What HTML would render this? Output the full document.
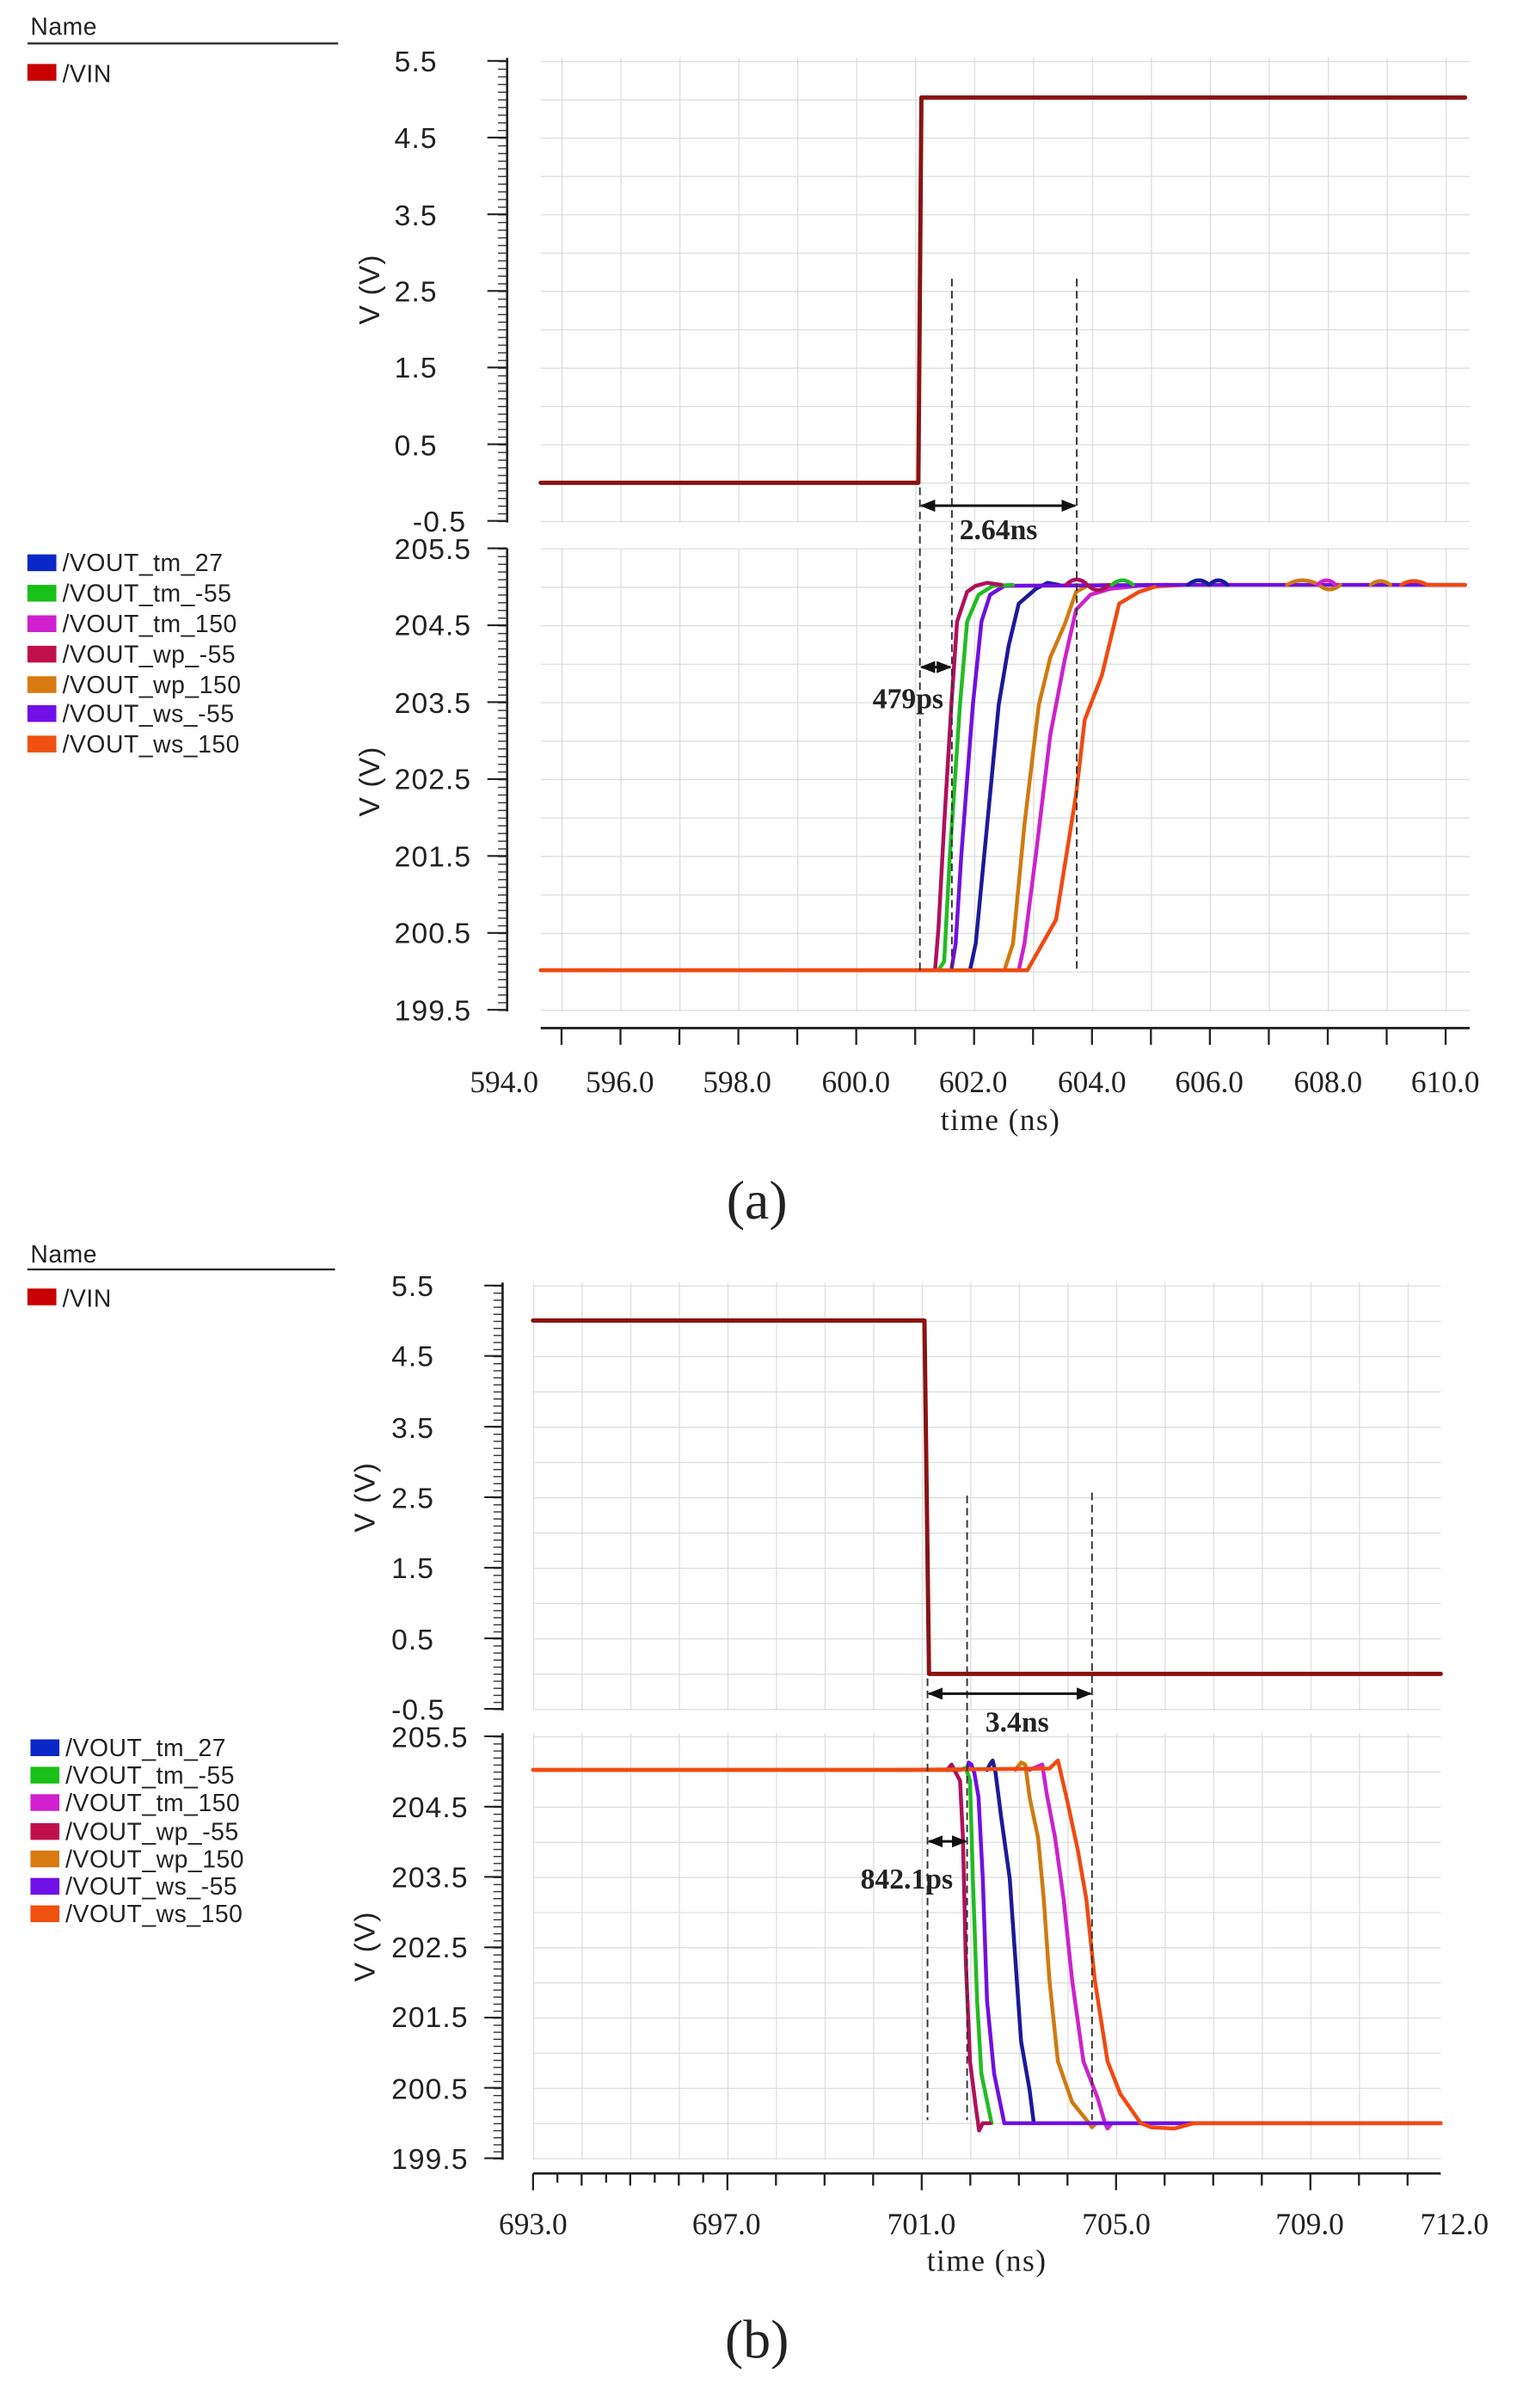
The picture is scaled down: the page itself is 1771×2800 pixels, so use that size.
<!DOCTYPE html>
<html><head><meta charset="utf-8"><style>
html,body{margin:0;padding:0;background:#fff;}
svg{display:block;}
.tk{font-family:"Liberation Sans",sans-serif;font-size:19px;fill:#222;letter-spacing:0.6px;}
.lg{font-family:"Liberation Sans",sans-serif;font-size:16px;fill:#222;letter-spacing:0.3px;}
.ser{font-family:"Liberation Serif",serif;fill:#222;}
.c{fill:none;stroke-linejoin:round;stroke-linecap:round;}
</style></head><body>
<svg width="1771" height="2800" viewBox="0 0 1000 1581" preserveAspectRatio="none" xmlns="http://www.w3.org/2000/svg">
<defs>
<pattern id="gva" x="330" y="0" width="38.7" height="1581" patternUnits="userSpaceOnUse"><line x1="0.3" y1="0" x2="0.3" y2="1581" stroke="#dcdcdc" stroke-width="0.8"/></pattern>
<pattern id="gh1" x="0" y="40" width="1000" height="25.17" patternUnits="userSpaceOnUse"><line x1="0" y1="0.3" x2="1000" y2="0.3" stroke="#dcdcdc" stroke-width="0.8"/></pattern>
<pattern id="gh2" x="0" y="360" width="1000" height="25.25" patternUnits="userSpaceOnUse"><line x1="0" y1="0.3" x2="1000" y2="0.3" stroke="#dcdcdc" stroke-width="0.8"/></pattern>
<pattern id="gvb" x="350" y="0" width="31.9" height="1581" patternUnits="userSpaceOnUse"><line x1="0.3" y1="0" x2="0.3" y2="1581" stroke="#dcdcdc" stroke-width="0.8"/></pattern>
<pattern id="gh3" x="0" y="844" width="1000" height="23.17" patternUnits="userSpaceOnUse"><line x1="0" y1="0.3" x2="1000" y2="0.3" stroke="#dcdcdc" stroke-width="0.8"/></pattern>
<pattern id="gh4" x="0" y="1140" width="1000" height="23.08" patternUnits="userSpaceOnUse"><line x1="0" y1="0.3" x2="1000" y2="0.3" stroke="#dcdcdc" stroke-width="0.8"/></pattern>
<pattern id="ta1" x="0" y="40" width="1000" height="5.033" patternUnits="userSpaceOnUse"><line x1="327" y1="0.4" x2="333" y2="0.4" stroke="#333" stroke-width="0.8"/></pattern>
<pattern id="ta2" x="0" y="360" width="1000" height="5.05" patternUnits="userSpaceOnUse"><line x1="327" y1="0.4" x2="333" y2="0.4" stroke="#333" stroke-width="0.8"/></pattern>
<pattern id="tb1" x="0" y="844" width="1000" height="4.633" patternUnits="userSpaceOnUse"><line x1="324" y1="0.4" x2="330" y2="0.4" stroke="#333" stroke-width="0.8"/></pattern>
<pattern id="tb2" x="0" y="1140" width="1000" height="4.617" patternUnits="userSpaceOnUse"><line x1="324" y1="0.4" x2="330" y2="0.4" stroke="#333" stroke-width="0.8"/></pattern>
<marker id="ah" viewBox="0 0 10 10" refX="9" refY="5" markerWidth="10" markerHeight="10" markerUnits="userSpaceOnUse" orient="auto-start-reverse"><path d="M0 1 L10 5 L0 9 Z" fill="#111"/></marker>
</defs>

<!-- ================= (a) ================= -->
<text class="lg" x="20" y="23">Name</text>
<line x1="18" y1="28.5" x2="222" y2="28.5" stroke="#222" stroke-width="1.3"/>
<rect x="18" y="42" width="19" height="11" fill="#c80000"/><text class="lg" x="41" y="54">/VIN</text>

<g class="lg">
<rect x="18" y="364" width="19" height="11" fill="#0a28c8"/><text x="41" y="375">/VOUT_tm_27</text>
<rect x="18" y="384" width="19" height="11" fill="#18c018"/><text x="41" y="395">/VOUT_tm_-55</text>
<rect x="18" y="404" width="19" height="11" fill="#d020d0"/><text x="41" y="415">/VOUT_tm_150</text>
<rect x="18" y="424" width="19" height="11" fill="#c0104c"/><text x="41" y="435">/VOUT_wp_-55</text>
<rect x="18" y="444" width="19" height="11" fill="#d87a10"/><text x="41" y="455">/VOUT_wp_150</text>
<rect x="18" y="463" width="19" height="11" fill="#7010e8"/><text x="41" y="474">/VOUT_ws_-55</text>
<rect x="18" y="483" width="19" height="11" fill="#f05010"/><text x="41" y="494">/VOUT_ws_150</text>
</g>

<rect x="355" y="38" width="610" height="305" fill="url(#gva)"/>
<rect x="355" y="38" width="610" height="305" fill="url(#gh1)"/>
<rect x="355" y="360" width="610" height="304" fill="url(#gva)"/>
<rect x="355" y="360" width="610" height="304" fill="url(#gh2)"/>
<rect x="320" y="38" width="14" height="306" fill="url(#ta1)"/>
<rect x="320" y="358" width="14" height="306" fill="url(#ta2)"/>
<line x1="333" y1="38" x2="333" y2="343" stroke="#222" stroke-width="1.5"/>
<line x1="333" y1="360" x2="333" y2="664" stroke="#222" stroke-width="1.5"/>
<g stroke="#222" stroke-width="1.2">
<line x1="320" y1="40" x2="333" y2="40"/><line x1="320" y1="90.3" x2="333" y2="90.3"/><line x1="320" y1="140.7" x2="333" y2="140.7"/><line x1="320" y1="191" x2="333" y2="191"/><line x1="320" y1="241.3" x2="333" y2="241.3"/><line x1="320" y1="291.7" x2="333" y2="291.7"/><line x1="320" y1="342" x2="333" y2="342"/>
<line x1="320" y1="360" x2="333" y2="360"/><line x1="320" y1="410.5" x2="333" y2="410.5"/><line x1="320" y1="461" x2="333" y2="461"/><line x1="320" y1="511.5" x2="333" y2="511.5"/><line x1="320" y1="562" x2="333" y2="562"/><line x1="320" y1="612.5" x2="333" y2="612.5"/><line x1="320" y1="663" x2="333" y2="663"/>
</g>
<g class="tk">
<text x="259" y="47">5.5</text><text x="259" y="97">4.5</text><text x="259" y="148">3.5</text><text x="259" y="198">2.5</text><text x="259" y="248">1.5</text><text x="259" y="299">0.5</text><text x="271" y="349">-0.5</text>
<text x="259" y="367">205.5</text><text x="259" y="417">204.5</text><text x="259" y="468">203.5</text><text x="259" y="518">202.5</text><text x="259" y="569">201.5</text><text x="259" y="619">200.5</text><text x="259" y="670">199.5</text>
</g>
<text class="tk" transform="translate(249,190) rotate(-90)" text-anchor="middle" font-size="18">V (V)</text>
<text class="tk" transform="translate(249,513) rotate(-90)" text-anchor="middle" font-size="18">V (V)</text>

<!-- x axis a -->
<line x1="355" y1="675" x2="965" y2="675" stroke="#222" stroke-width="1.6"/>
<g stroke="#222" stroke-width="1.3">
<line x1="368.7" y1="675" x2="368.7" y2="686"/><line x1="407.4" y1="675" x2="407.4" y2="686"/><line x1="446.1" y1="675" x2="446.1" y2="686"/><line x1="484.8" y1="675" x2="484.8" y2="686"/><line x1="523.5" y1="675" x2="523.5" y2="686"/><line x1="562.2" y1="675" x2="562.2" y2="686"/><line x1="600.9" y1="675" x2="600.9" y2="686"/><line x1="639.6" y1="675" x2="639.6" y2="686"/><line x1="678.3" y1="675" x2="678.3" y2="686"/><line x1="717" y1="675" x2="717" y2="686"/><line x1="755.7" y1="675" x2="755.7" y2="686"/><line x1="794.4" y1="675" x2="794.4" y2="686"/><line x1="833.1" y1="675" x2="833.1" y2="686"/><line x1="871.8" y1="675" x2="871.8" y2="686"/><line x1="910.5" y1="675" x2="910.5" y2="686"/><line x1="949.2" y1="675" x2="949.2" y2="686"/>
</g>
<g class="ser" font-size="20" text-anchor="middle">
<text x="331" y="717">594.0</text><text x="407" y="717">596.0</text><text x="484" y="717">598.0</text><text x="562" y="717">600.0</text><text x="639" y="717">602.0</text><text x="717" y="717">604.0</text><text x="794" y="717">606.0</text><text x="872" y="717">608.0</text><text x="949" y="717">610.0</text>
<text x="657" y="742" letter-spacing="0.8">time (ns)</text>
<text x="497" y="800" font-size="36">(a)</text>
</g>

<!-- VIN a -->
<path class="c" d="M355 317 H603 L605 64 H962" stroke="#8a1212" stroke-width="2.8"/>

<!-- outputs a -->
<path class="c" d="M355 637 H616" stroke="#f04a10" stroke-width="2.6"/>
<g transform="matrix(0.1883 0 0 0.1957 559.7 325.9)" class="c">
<path vector-effect="non-scaling-stroke" stroke-width="4.5" stroke="#cc22cc" d="M580 1590 L600 1500 L640 1200 L690 800 L740 550 L780 380 L830 330 L900 310 L1000 300 L1100 297"/>
<path vector-effect="non-scaling-stroke" stroke-width="4.5" stroke="#d07a10" d="M530 1590 L560 1500 L600 1100 L650 700 L690 540 L740 430 L780 320 L820 300 L900 297"/>
<path vector-effect="non-scaling-stroke" stroke-width="4.5" stroke="#1a1a9a" d="M410 1590 L430 1500 L460 1200 L510 700 L545 500 L580 360 L640 310 L680 290 L720 297"/>
<path vector-effect="non-scaling-stroke" stroke-width="4.5" stroke="#7010e0" d="M345 1590 L360 1500 L380 1200 L420 700 L450 420 L480 330 L530 300 L1100 297"/>
<path vector-effect="non-scaling-stroke" stroke-width="4.5" stroke="#22bb22" d="M300 1590 L320 1560 L340 1200 L375 700 L400 420 L440 330 L490 300 L560 297"/>
<path vector-effect="non-scaling-stroke" stroke-width="4.5" stroke="#b0105a" d="M288 1590 L300 1450 L320 1100 L345 700 L365 420 L400 320 L430 300 L470 290 L520 297"/>
<path vector-effect="non-scaling-stroke" stroke-width="4.5" stroke="#f04a10" d="M0 1590 L610 1590 L710 1420 L780 1000 L810 750 L870 600 L930 360 L1000 320 L1060 302 L1150 297"/>
</g>
<g class="c" stroke-width="2.5">
<path d="M760 384 H962" stroke="#7010e0"/>
<path d="M700 384 Q707 377 714 384 T728 384" stroke="#b0105a"/>
<path d="M730 384 Q737 378 744 384" stroke="#22bb22"/>
<path d="M780 384 Q787 378 794 384 Q800 378 806 384" stroke="#1a1a9a"/>
<path d="M845 384 Q855 378 866 384 Q873 390 880 384" stroke="#d07a10"/>
<path d="M865 384 Q871 378 877 384" stroke="#cc22cc"/>
<path d="M900 384 Q906 379 913 384" stroke="#d07a10"/>
<path d="M920 384 Q928 379 937 384 H962" stroke="#f04a10"/>
</g>

<!-- annotations a -->
<g stroke="#333" stroke-width="1.1" stroke-dasharray="5,3">
<line x1="604" y1="320" x2="604" y2="637"/>
<line x1="625" y1="183" x2="625" y2="637"/>
<line x1="707" y1="183" x2="707" y2="637"/>
</g>
<line x1="605" y1="332" x2="706" y2="332" stroke="#111" stroke-width="1.7" marker-start="url(#ah)" marker-end="url(#ah)"/>
<line x1="605" y1="438" x2="624" y2="438" stroke="#111" stroke-width="1.7" marker-start="url(#ah)" marker-end="url(#ah)"/>
<text class="ser" x="630" y="354" font-size="19" font-weight="bold">2.64ns</text>
<text class="ser" x="573" y="465" font-size="19" font-weight="bold">479ps</text>

<!-- ================= (b) ================= -->
<text class="lg" x="20" y="829">Name</text>
<line x1="18" y1="833.5" x2="220" y2="833.5" stroke="#222" stroke-width="1.3"/>
<rect x="18" y="846" width="19" height="11" fill="#c80000"/><text class="lg" x="41" y="858">/VIN</text>

<g class="lg">
<rect x="20" y="1142" width="19" height="11" fill="#0a28c8"/><text x="43" y="1153">/VOUT_tm_27</text>
<rect x="20" y="1160" width="19" height="11" fill="#18c018"/><text x="43" y="1171">/VOUT_tm_-55</text>
<rect x="20" y="1178" width="19" height="11" fill="#d020d0"/><text x="43" y="1189">/VOUT_tm_150</text>
<rect x="20" y="1197" width="19" height="11" fill="#c0104c"/><text x="43" y="1208">/VOUT_wp_-55</text>
<rect x="20" y="1215" width="19" height="11" fill="#d87a10"/><text x="43" y="1226">/VOUT_wp_150</text>
<rect x="20" y="1233" width="19" height="11" fill="#7010e8"/><text x="43" y="1244">/VOUT_ws_-55</text>
<rect x="20" y="1251" width="19" height="11" fill="#f05010"/><text x="43" y="1262">/VOUT_ws_150</text>
</g>

<rect x="350" y="842" width="596" height="281" fill="url(#gvb)"/>
<rect x="350" y="842" width="596" height="281" fill="url(#gh3)"/>
<rect x="350" y="1138" width="596" height="280" fill="url(#gvb)"/>
<rect x="350" y="1138" width="596" height="280" fill="url(#gh4)"/>
<rect x="318" y="842" width="14" height="282" fill="url(#tb1)"/>
<rect x="318" y="1138" width="14" height="281" fill="url(#tb2)"/>
<line x1="330" y1="842" x2="330" y2="1123" stroke="#222" stroke-width="1.5"/>
<line x1="330" y1="1138" x2="330" y2="1418" stroke="#222" stroke-width="1.5"/>
<g stroke="#222" stroke-width="1.2">
<line x1="318" y1="844" x2="330" y2="844"/><line x1="318" y1="890.3" x2="330" y2="890.3"/><line x1="318" y1="936.7" x2="330" y2="936.7"/><line x1="318" y1="983" x2="330" y2="983"/><line x1="318" y1="1029.3" x2="330" y2="1029.3"/><line x1="318" y1="1075.7" x2="330" y2="1075.7"/><line x1="318" y1="1122" x2="330" y2="1122"/>
<line x1="318" y1="1140" x2="330" y2="1140"/><line x1="318" y1="1186.2" x2="330" y2="1186.2"/><line x1="318" y1="1232.3" x2="330" y2="1232.3"/><line x1="318" y1="1278.5" x2="330" y2="1278.5"/><line x1="318" y1="1324.7" x2="330" y2="1324.7"/><line x1="318" y1="1370.8" x2="330" y2="1370.8"/><line x1="318" y1="1417" x2="330" y2="1417"/>
</g>
<g class="tk">
<text x="257" y="851">5.5</text><text x="257" y="897">4.5</text><text x="257" y="944">3.5</text><text x="257" y="990">2.5</text><text x="257" y="1036">1.5</text><text x="257" y="1083">0.5</text><text x="257" y="1129">-0.5</text>
<text x="257" y="1147">205.5</text><text x="257" y="1193">204.5</text><text x="257" y="1239">203.5</text><text x="257" y="1285">202.5</text><text x="257" y="1331">201.5</text><text x="257" y="1378">200.5</text><text x="257" y="1424">199.5</text>
</g>
<text class="tk" transform="translate(246,983) rotate(-90)" text-anchor="middle" font-size="18">V (V)</text>
<text class="tk" transform="translate(246,1278) rotate(-90)" text-anchor="middle" font-size="18">V (V)</text>

<line x1="350" y1="1427" x2="946" y2="1427" stroke="#222" stroke-width="1.6"/>
<g stroke="#222" stroke-width="1.3">
<line x1="350" y1="1427" x2="350" y2="1438"/><line x1="366" y1="1427" x2="366" y2="1433"/><line x1="381.9" y1="1427" x2="381.9" y2="1435"/><line x1="398" y1="1427" x2="398" y2="1433"/><line x1="413.8" y1="1427" x2="413.8" y2="1435"/><line x1="429.9" y1="1427" x2="429.9" y2="1433"/><line x1="445.7" y1="1427" x2="445.7" y2="1435"/><line x1="461.7" y1="1427" x2="461.7" y2="1433"/><line x1="477.6" y1="1427" x2="477.6" y2="1438"/><line x1="509.5" y1="1427" x2="509.5" y2="1435"/><line x1="541.4" y1="1427" x2="541.4" y2="1435"/><line x1="573.3" y1="1427" x2="573.3" y2="1435"/><line x1="605.2" y1="1427" x2="605.2" y2="1438"/><line x1="637.1" y1="1427" x2="637.1" y2="1435"/><line x1="669" y1="1427" x2="669" y2="1435"/><line x1="700.9" y1="1427" x2="700.9" y2="1435"/><line x1="732.8" y1="1427" x2="732.8" y2="1438"/><line x1="764.7" y1="1427" x2="764.7" y2="1435"/><line x1="796.6" y1="1427" x2="796.6" y2="1435"/><line x1="828.5" y1="1427" x2="828.5" y2="1435"/><line x1="860.4" y1="1427" x2="860.4" y2="1438"/><line x1="892.3" y1="1427" x2="892.3" y2="1435"/><line x1="924.2" y1="1427" x2="924.2" y2="1435"/>
</g>
<g class="ser" font-size="20" text-anchor="middle">
<text x="350" y="1467">693.0</text><text x="477" y="1467">697.0</text><text x="605" y="1467">701.0</text><text x="733" y="1467">705.0</text><text x="860" y="1467">709.0</text><text x="955" y="1467">712.0</text>
<text x="648" y="1491" letter-spacing="0.8">time (ns)</text>
<text x="497" y="1548" font-size="36">(b)</text>
</g>

<path class="c" d="M350 867 H607 L610 1099 H946" stroke="#8a1212" stroke-width="2.8"/>

<path class="c" d="M350 1162 H630" stroke="#f04a10" stroke-width="2.6"/>
<g transform="matrix(0.1862 0 0 0.267 588.5 966.3)" class="c">
<path vector-effect="non-scaling-stroke" stroke-width="4.5" stroke="#cc22cc" d="M470 733 L515 720 L530 790 L560 900 L590 1050 L620 1250 L660 1450 L710 1540 L736 1602 L745 1615 L760 1602"/>
<path vector-effect="non-scaling-stroke" stroke-width="4.5" stroke="#d07a10" d="M420 733 L440 715 L455 720 L470 800 L500 900 L520 1050 L540 1250 L570 1450 L620 1550 L680 1602 L690 1612 L705 1602"/>
<path vector-effect="non-scaling-stroke" stroke-width="4.5" stroke="#1a1a9a" d="M320 733 L330 720 L340 710 L350 740 L370 850 L400 1000 L420 1200 L440 1400 L470 1520 L485 1602"/>
<path vector-effect="non-scaling-stroke" stroke-width="4.5" stroke="#7010e0" d="M250 733 L255 715 L265 720 L275 740 L290 800 L305 1000 L320 1300 L345 1480 L381 1602 L1920 1602"/>
<path vector-effect="non-scaling-stroke" stroke-width="4.5" stroke="#22bb22" d="M225 733 L245 728 L260 760 L270 1000 L285 1300 L300 1480 L336 1602"/>
<path vector-effect="non-scaling-stroke" stroke-width="4.5" stroke="#b0105a" d="M180 733 L195 720 L210 740 L225 760 L235 900 L245 1200 L260 1450 L280 1560 L292 1620 L305 1602 L330 1602"/>
<path vector-effect="non-scaling-stroke" stroke-width="4.5" stroke="#f04a10" d="M0 733 L540 730 L570 710 L600 800 L640 930 L670 1050 L700 1250 L745 1450 L790 1530 L862 1602 L900 1612 L980 1615 L1050 1602 L1920 1602"/>
</g>

<g stroke="#333" stroke-width="1.1" stroke-dasharray="5,3">
<line x1="609" y1="1102" x2="609" y2="1392"/>
<line x1="635" y1="982" x2="635" y2="1392"/>
<line x1="717" y1="980" x2="717" y2="1392"/>
</g>
<line x1="610" y1="1112" x2="716" y2="1112" stroke="#111" stroke-width="1.7" marker-start="url(#ah)" marker-end="url(#ah)"/>
<line x1="610" y1="1209" x2="634" y2="1209" stroke="#111" stroke-width="1.7" marker-start="url(#ah)" marker-end="url(#ah)"/>
<text class="ser" x="647" y="1137" font-size="19" font-weight="bold">3.4ns</text>
<text class="ser" x="565" y="1240" font-size="19" font-weight="bold">842.1ps</text>
</svg>
</body></html>
